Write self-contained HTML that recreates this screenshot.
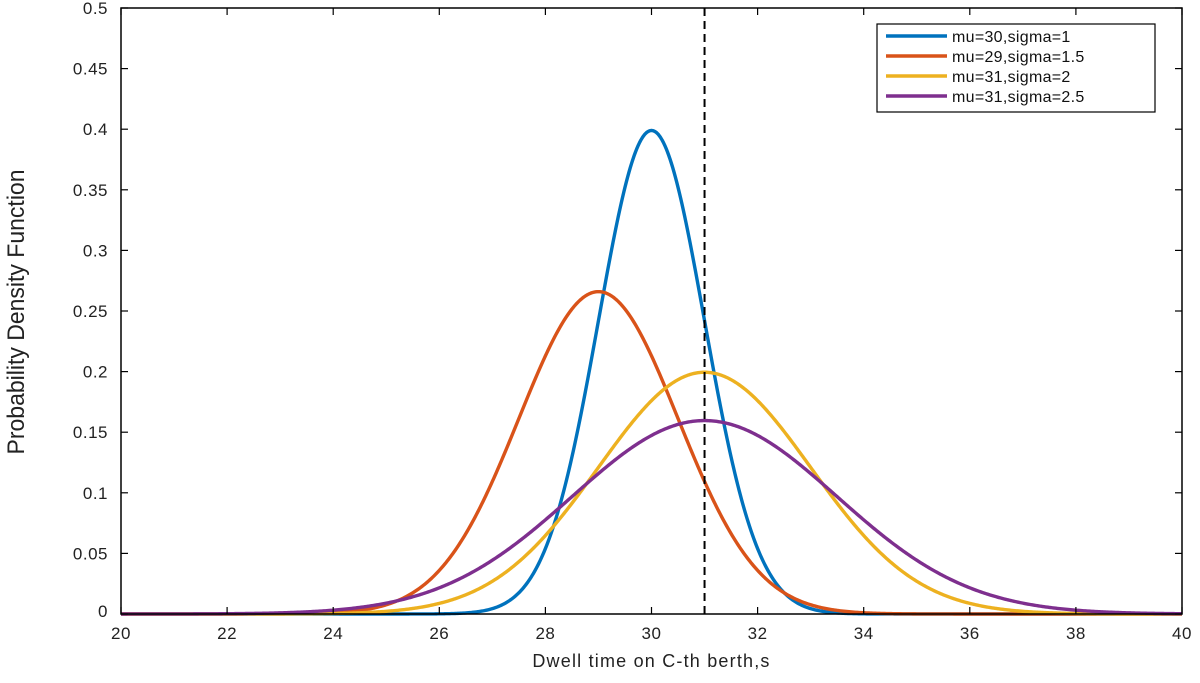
<!DOCTYPE html>
<html><head><meta charset="utf-8"><style>
html,body{margin:0;padding:0;background:#fff;}
svg{display:block;font-family:"Liberation Sans",Arial,sans-serif;}
</style></head><body>
<svg id="chart" width="1200" height="683" viewBox="0 0 1200 683" xmlns="http://www.w3.org/2000/svg">
<g id="plot"></g>
</svg>
<script>
const mus = [30, 29, 31, 31];
const sigmas = [1, 1.5, 2, 2.5];
const seriesLabels = ['mu=30,sigma=1','mu=29,sigma=1.5','mu=31,sigma=2','mu=31,sigma=2.5'];
const xTicks = [20,22,24,26,28,30,32,34,36,38,40];
const yTicks = [0,0.05,0.1,0.15,0.2,0.25,0.3,0.35,0.4,0.45,0.5];
const yTickLabels = ['0','0.05','0.1','0.15','0.2','0.25','0.3','0.35','0.4','0.45','0.5'];
const markerX = [31];

const colors = ['#0072BD','#D95319','#EDB120','#7E2F8E'];
const L=121,R=1182,T=8,B=614;
const sx=v=>L+(v-20)/20*(R-L);
const sy=v=>B-v/0.5*(B-T);
const NS='http://www.w3.org/2000/svg';
const g=document.getElementById('plot');
function mk(tag,attrs,parent){const e=document.createElementNS(NS,tag);for(const k in attrs)e.setAttribute(k,attrs[k]);(parent||g).appendChild(e);return e;}

mus.forEach((mu,i)=>{
  const s=sigmas[i];let d='';
  for(let k=0;k<=800;k++){const x=20+k*20/800;const y=Math.exp(-0.5*((x-mu)/s)**2)/(s*Math.sqrt(2*Math.PI));d+=(k?'L':'M')+sx(x).toFixed(2)+' '+sy(y).toFixed(2);}
  const p=mk('path',{d:d,fill:'none',stroke:colors[i],'stroke-width':3.4,'stroke-linejoin':'round'});
  
  
});
markerX.forEach(v=>{
  const l=mk('line',{x1:sx(v),x2:sx(v),y1:T,y2:B,stroke:'#000','stroke-width':2,'stroke-dasharray':'8,5'});
  
  
});
const box=mk('rect',{x:L,y:T,width:R-L,height:B-T,fill:'none',stroke:'#000','stroke-width':1.5});


xTicks.forEach(v=>{
  mk('line',{x1:sx(v),x2:sx(v),y1:B,y2:B-7,stroke:'#000','stroke-width':1.2});
  mk('line',{x1:sx(v),x2:sx(v),y1:T,y2:T+7,stroke:'#000','stroke-width':1.2});
  const t=mk('text',{x:sx(v),y:B+25,'text-anchor':'middle','font-size':17,fill:'#222','letter-spacing':'0.5'});
  t.textContent=v;
  
  
});
yTicks.forEach((v,i)=>{
  mk('line',{x1:L,x2:L+7,y1:sy(v),y2:sy(v),stroke:'#000','stroke-width':1.2});
  mk('line',{x1:R,x2:R-7,y1:sy(v),y2:sy(v),stroke:'#000','stroke-width':1.2});
  const t=mk('text',{x:L-13,y:sy(v)+(i===0?3:6),'text-anchor':'end','font-size':17,fill:'#222','letter-spacing':'0.5'});
  t.textContent=yTickLabels[i];
  
  
});
const xt=mk('text',{x:(L+R)/2,y:667,'text-anchor':'middle','font-size':18,fill:'#222','letter-spacing':'1.2'});
xt.textContent='Dwell time on C-th berth,s';


const yt=mk('text',{x:0,y:0,'text-anchor':'middle','font-size':24,fill:'#222',textLength:285,lengthAdjust:'spacingAndGlyphs',transform:'translate(24,312) rotate(-90)'});
yt.textContent='Probability Density Function';


const lg=mk('g',{});


mk('rect',{x:877,y:24,width:278,height:88,fill:'#fff',stroke:'#000','stroke-width':1.2},lg);
seriesLabels.forEach((s,i)=>{
  const y=36+i*20;
  const e=mk('g',{},lg);
  
  
  mk('line',{x1:886,x2:947,y1:y,y2:y,stroke:colors[i],'stroke-width':3.4},e);
  const t=mk('text',{x:952,y:y+6,'font-size':16,fill:'#111','letter-spacing':'0.3'},e);
  t.textContent=s;
});
</script>
</body></html>
